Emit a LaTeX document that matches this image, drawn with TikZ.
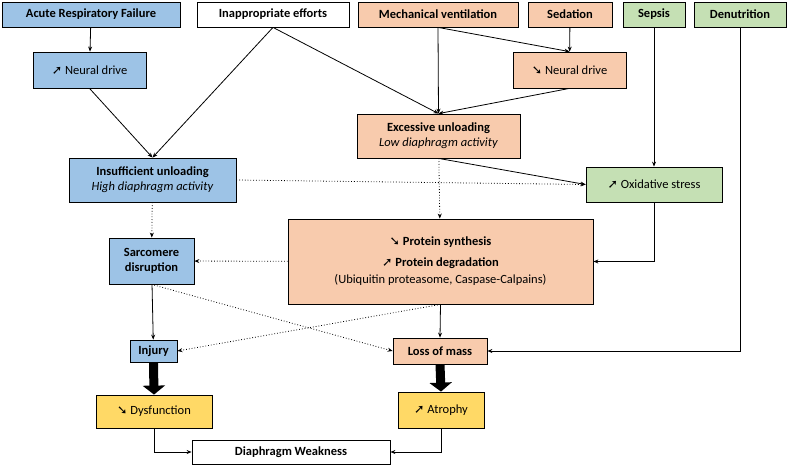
\documentclass[tikz,border=0pt]{standalone}
\usepackage{fontspec}
\setmainfont{Carlito}
\newfontfamily\symfont{DejaVu Sans}
\usetikzlibrary{arrows.meta,positioning}
\newcommand{\upar}{{\symfont\char"279A}\ }
\newcommand{\dnar}{{\symfont\char"2798}\ }
\definecolor{cblue}{HTML}{9DC3E6}
\definecolor{corange}{HTML}{F8CBAD}
\definecolor{cgreen}{HTML}{C5E0B4}
\definecolor{cyellow}{HTML}{FFD966}
\begin{document}
\begin{tikzpicture}[x=1pt, y=-1pt,
    font=\fontsize{12.5}{15}\selectfont,
    box/.style={draw, rectangle, thick, align=center, inner sep=0pt, minimum height=25pt},
    blue/.style={box, fill=cblue},
    orange/.style={box, fill=corange},
    green/.style={box, fill=cgreen},
    yellow/.style={box, fill=cyellow},
    white/.style={box, fill=white},
    arrow/.style={-{Stealth[length=5pt,width=4pt]}, thick},
    dotarrow/.style={arrow, dotted},
    bigarrow/.style={-{Triangle[length=9pt,width=22pt]}, line width=9pt}
]
    \useasboundingbox (0,0) rectangle (787,465);
    % top row
    \node[blue, minimum width=178pt] (arf) at (91,14.5) {\textbf{Acute Respiratory Failure}};
    \node[white, minimum width=152pt] (effort) at (273,14.5) {\textbf{Inappropriate efforts}};
    \node[orange, minimum width=160pt] (mv) at (438,14.5) {\textbf{Mechanical ventilation}};
    \node[orange, minimum width=84pt] (sed) at (570,14.5) {\textbf{Sedation}};
    \node[green, minimum width=62pt] (sepsis) at (654,14.5) {\textbf{Sepsis}};
    \node[green, minimum width=92pt] (denut) at (740,14.5) {\textbf{Denutrition}};
    % second row
    \node[blue, minimum width=113pt, minimum height=36pt] (ndup) at (89.5,70) {\upar Neural drive};
    \node[orange, minimum width=113pt, minimum height=36pt] (nddn) at (569.5,70) {\dnar Neural drive};
    \node[orange, minimum width=163pt, minimum height=44pt] (excess) at (438.5,136) {\textbf{Excessive unloading}\\\textit{Low diaphragm activity}};
    \node[blue, minimum width=167pt, minimum height=44pt] (insuff) at (152.5,180) {\textbf{Insufficient unloading}\\\textit{High diaphragm activity}};
    \node[green, minimum width=136pt, minimum height=35pt] (oxid) at (654,184.5) {\upar Oxidative stress};
    % middle
    \node[orange, minimum width=305pt, minimum height=85pt] (protein) at (440.5,261.5)
        {\dnar\textbf{Protein synthesis}\\[6pt]\upar\textbf{Protein degradation}\\[2pt](Ubiquitin proteasome, Caspase-Calpains)};
    \node[blue, minimum width=85pt, minimum height=46pt] (sarco) at (151.5,261) {\textbf{Sarcomere}\\\textbf{disruption}};
    \node[blue, minimum width=47pt, minimum height=22pt] (injury) at (153.5,351) {\textbf{Injury}};
    \node[orange, minimum width=94pt, minimum height=26pt] (loss) at (440,351) {\textbf{Loss of mass}};
    % bottom
    \node[yellow, minimum width=116pt, minimum height=33pt] (dysf) at (154,411.5) {\dnar Dysfunction};
    \node[yellow, minimum width=86pt, minimum height=36pt] (atro) at (441,410) {\upar Atrophy};
    \node[white, minimum width=198pt, minimum height=24pt] (weak) at (291,452) {\textbf{Diaphragm Weakness}};

    \draw[arrow] (arf) -- (ndup);
    \draw[arrow] (ndup.south) -- (insuff.north);
    \draw[arrow] (effort.south) -- (insuff.north);
    \draw[arrow] (effort.south) -- (excess.north);
    \draw[arrow] (mv.south) -- (excess.north);
    \draw[arrow] (mv.south) -- (nddn.north);
    \draw[arrow] (sed) -- (nddn);
    \draw[arrow] (nddn.south) -- (excess.north);
    \draw[arrow] (excess.south east) ++(0,-4) coordinate (exo) (excess.south) -- (oxid.west);
    \draw[arrow] (sepsis) -- (oxid);
    \draw[dotarrow] (insuff.east) -- (oxid.west);
    \draw[arrow] (oxid.south) |- (protein.east);
    \draw[dotarrow] (excess) -- (protein);
    \draw[dotarrow] (insuff) -- (sarco);
    \draw[dotarrow] (protein) -- (sarco);
    \draw[arrow] (sarco) -- (injury);
    \draw[dotarrow] (sarco.south) -- (loss.west);
    \draw[dotarrow] (protein.south) -- (injury.east);
    \draw[arrow] (protein.south) -- (loss.north);
    \draw[arrow] (denut.south) |- (loss.east);
    \draw[bigarrow] (injury.south) -- (dysf.north);
    \draw[bigarrow] (loss.south) -- (atro.north);
    \draw[arrow] (dysf.south) |- (weak.west);
    \draw[arrow] (atro.south) |- (weak.east);
\end{tikzpicture}
\end{document}
